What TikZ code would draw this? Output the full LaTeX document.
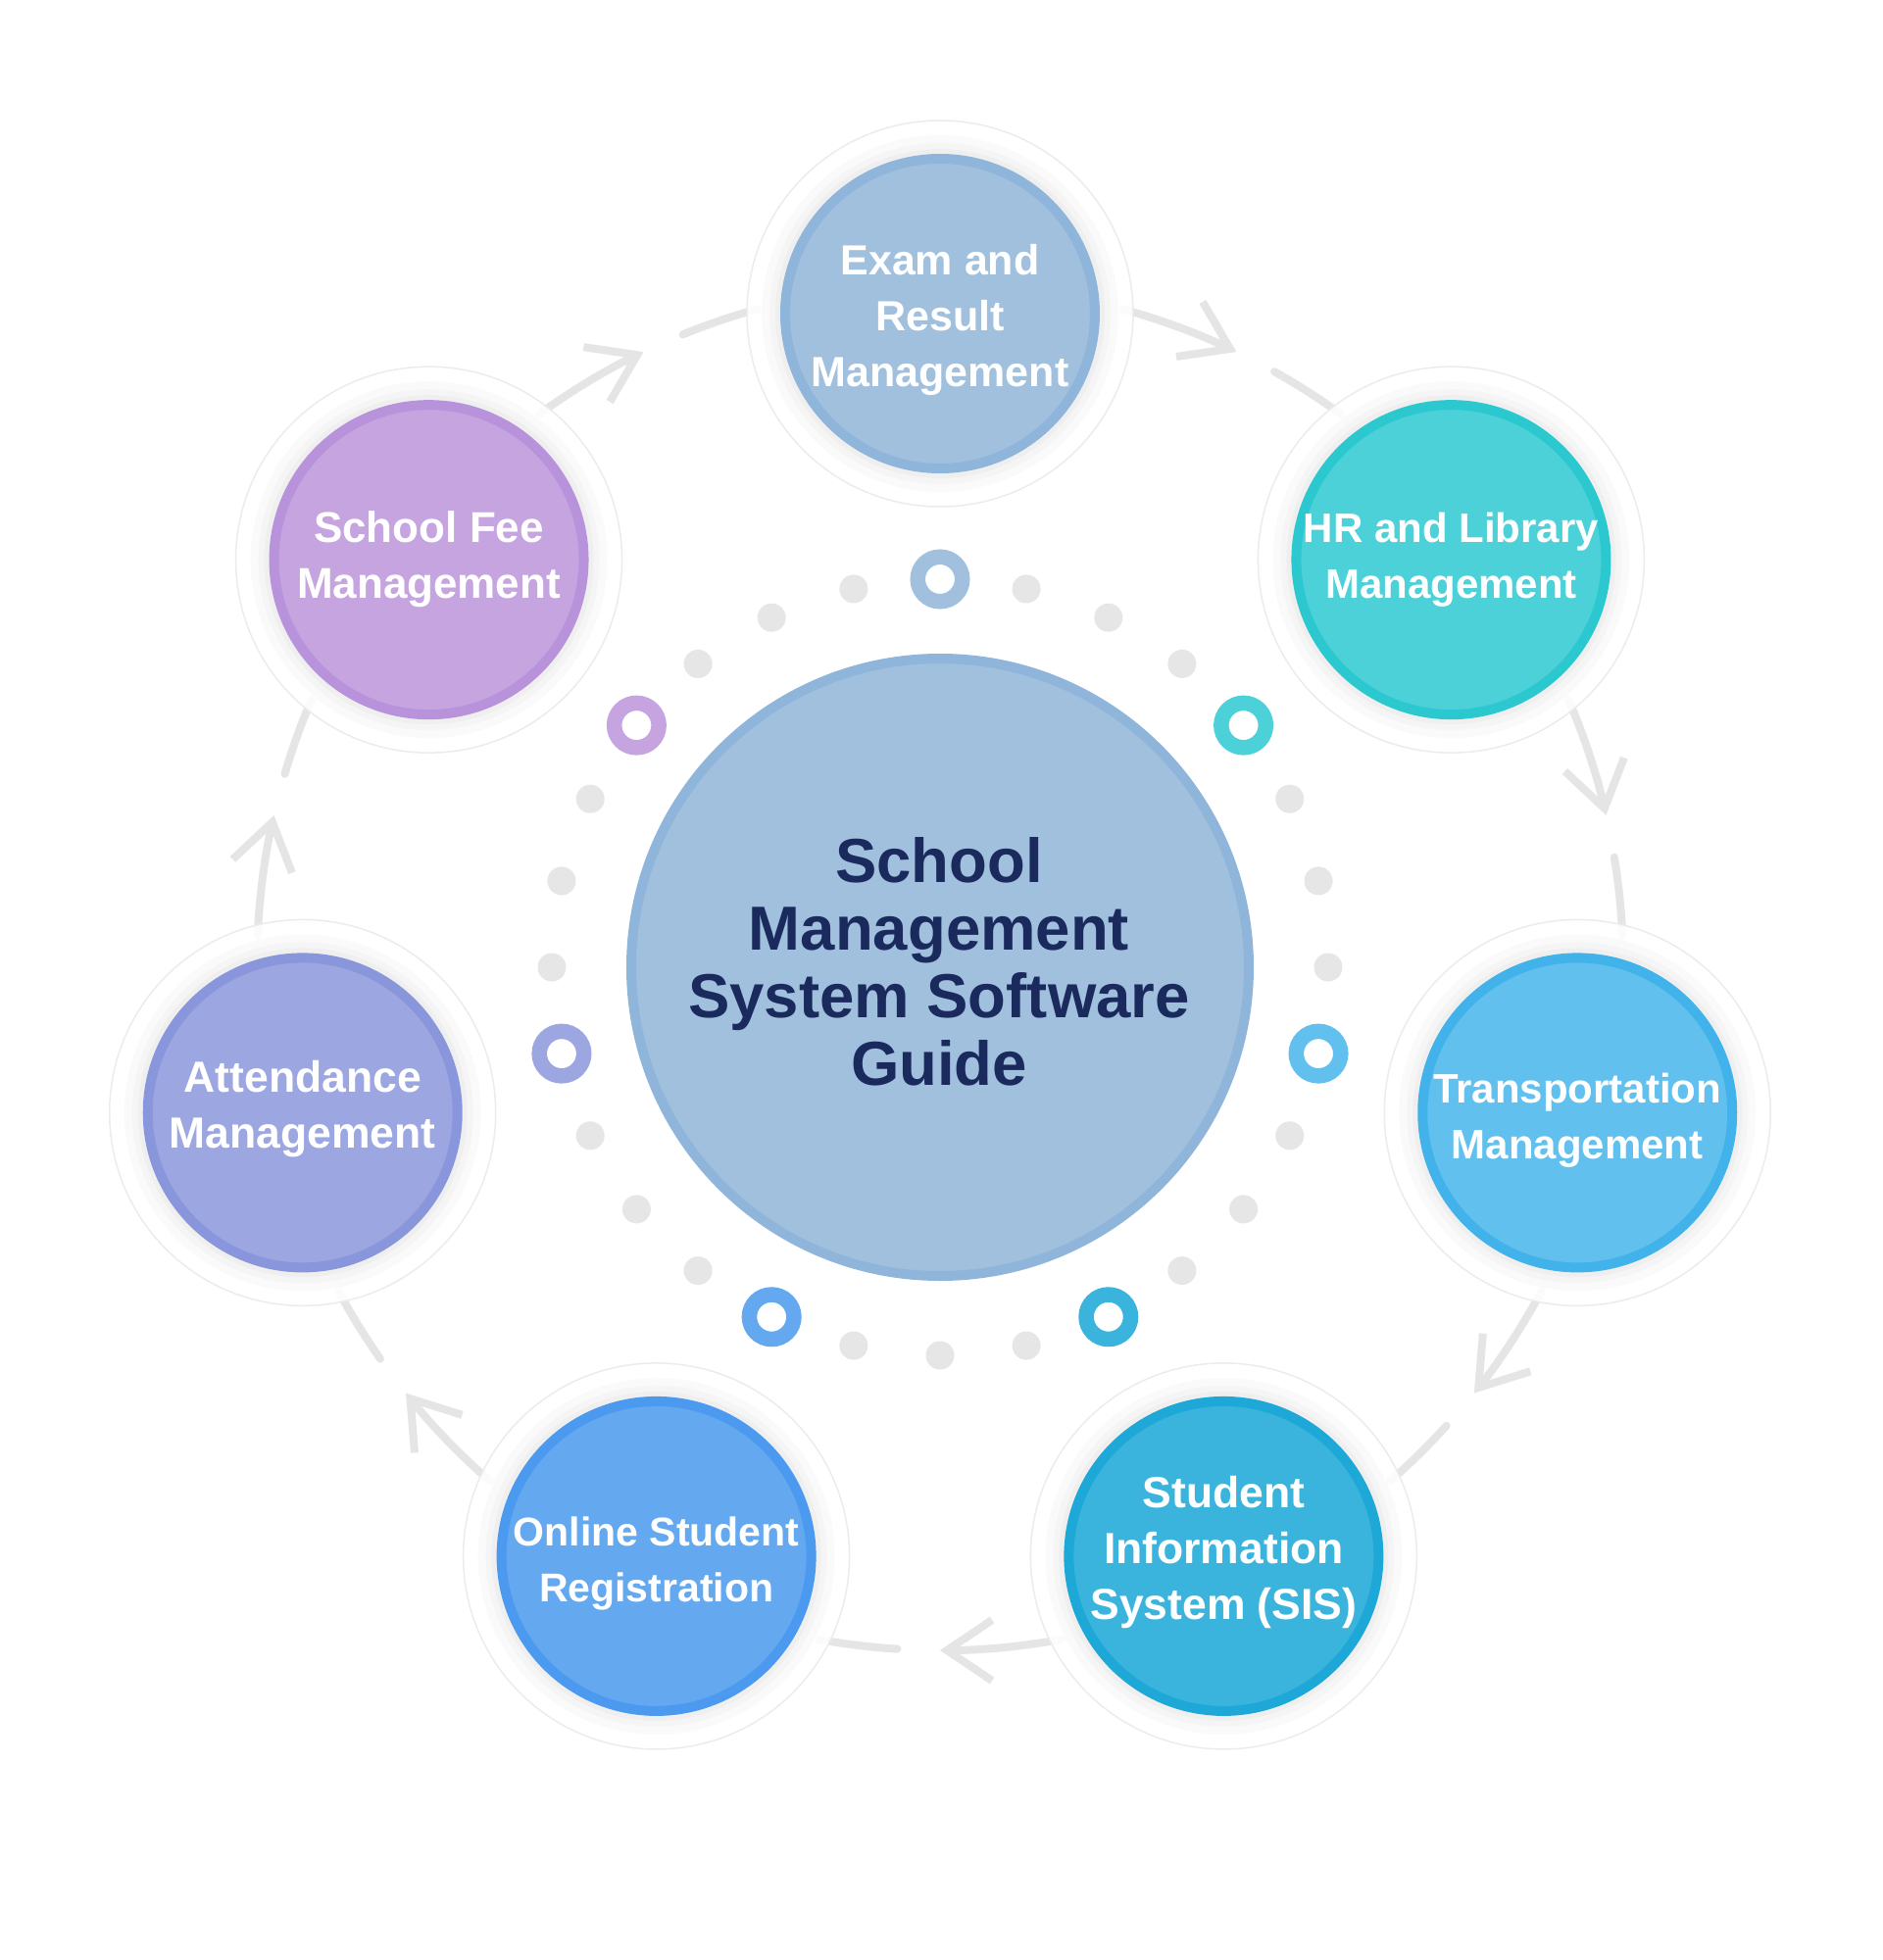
\documentclass[tikz,border=0pt]{standalone}
\usepackage{fontspec}
\setmainfont{Liberation Sans}
\usetikzlibrary{arrows.meta}
\definecolor{f0}{HTML}{A0C0DE}\definecolor{d0}{HTML}{8FB6DA}
\definecolor{f1}{HTML}{4DD1D8}\definecolor{d1}{HTML}{2CC8D0}
\definecolor{f2}{HTML}{62C0EE}\definecolor{d2}{HTML}{42B2EA}
\definecolor{f3}{HTML}{3AB4DC}\definecolor{d3}{HTML}{1EA8D8}
\definecolor{f4}{HTML}{64A8F0}\definecolor{d4}{HTML}{4C9AF0}
\definecolor{f5}{HTML}{9CA6E0}\definecolor{d5}{HTML}{8A96DC}
\definecolor{f6}{HTML}{C5A4E0}\definecolor{d6}{HTML}{B892DA}
\definecolor{navy}{HTML}{1B2A5C}
\definecolor{dotc}{HTML}{E6E6E6}
\definecolor{arrc}{HTML}{E5E5E5}
\definecolor{halorim}{HTML}{ECECEC}
\tikzset{
  conn/.style={draw=arrc, line width=8pt, line cap=round},
  halo/.style={circle, minimum size=394pt, inner sep=0pt, fill=white, fill opacity=0.85, draw=halorim, line width=1.5pt},
  sat/.style={circle, minimum size=316pt, inner sep=0pt, line width=10pt},
  sattext/.style={text=white, align=center, inner sep=0pt},
  centre/.style={circle, minimum size=630pt, inner sep=0pt, line width=10pt, fill=f0, draw=d0},
  centretext/.style={text=navy, align=center, inner sep=0pt, font=\fontsize{63.5}{69}\selectfont\bfseries},
  dotmark/.style={fill=dotc},
  ringmark/.style={line width=15.5pt, fill=white}
}
\begin{document}
\begin{tikzpicture}[x=1pt,y=1pt]
\useasboundingbox (-959,-1013) rectangle (961,987);
\fill[white] (-959,-1013) rectangle (961,987);
% connectors
\foreach \k in {0,...,6}{
  \pgfmathsetmacro\a{90-51.428571*\k}
  \pgfmathsetmacro\sA{\a-15.5}
  \pgfmathsetmacro\tA{\a-25.714286}
  \pgfmathsetmacro\uA{\a-29.3}
  \pgfmathsetmacro\eA{\a-51.428571+15.5}
  \coordinate (a\k) at (\sA:697pt);
  \coordinate (b\k) at (\uA:697pt);
  \draw[conn,-{Straight Barb[length=46pt,width=62pt,sharp]}] (a\k) arc[start angle=\sA, end angle=\tA, radius=697pt];
  \draw[conn] (b\k) arc[start angle=\uA, end angle=\eA, radius=697pt];
}
% dots and ring markers
\foreach \k in {0,...,6}{
  \pgfmathsetmacro\a{90-51.428571*\k}
  \foreach \j in {1,2,3}{
    \fill[dotmark] ({\a-12.857143*\j}:396pt) circle[radius=14.5pt];
  }
  \draw[ringmark, draw=f\k] (\a:396pt) circle[radius=22.75pt];
}
% centre
\node[centre] (C) at (0,0) {};
\node[centretext] (Ct) at (-1,6) {School\\Management\\System Software\\Guide};
% satellites
\foreach \k/\txt/\fs/\dy in {
  0/{Exam and\\Result\\Management}/43/-6,
  1/{HR and Library\\Management}/42/0,
  2/{Transportation\\Management}/42/-8,
  3/{Student\\Information\\System (SIS)}/44.5/4,
  4/{Online Student\\Registration}/41/-8,
  5/{Attendance\\Management}/44.5/4,
  6/{School Fee\\Management}/44/0}{
  \pgfmathsetmacro\a{90-51.428571*\k}
  \node[halo] (h\k) at (\a:667pt) {};
  \fill[black, opacity=0.018] (\a:667pt) circle[radius=182pt];
  \fill[black, opacity=0.02] (\a:667pt) circle[radius=174pt];
  \fill[black, opacity=0.025] (\a:667pt) circle[radius=168pt];
  \node[sat, fill=f\k, draw=d\k] (s\k) at (\a:667pt) {};
  \node[sattext, font=\fontsize{\fs}{57}\selectfont\bfseries] (t\k) at ([yshift=\dy pt]s\k.center) {\txt};
}
\end{tikzpicture}
\end{document}
